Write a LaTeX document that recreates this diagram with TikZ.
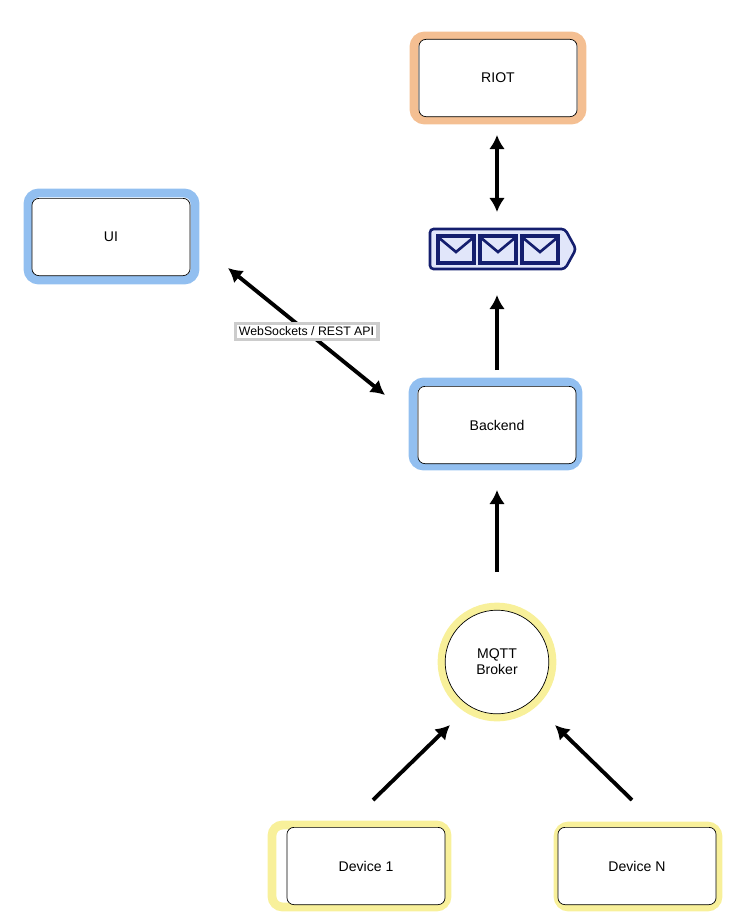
\documentclass[tikz,border=0pt]{standalone}
\usepackage{fontspec}
\setmainfont{Liberation Sans}
\usetikzlibrary{arrows.meta}
\definecolor{hlblue}{RGB}{110,170,235}
\definecolor{hlorange}{RGB}{240,170,110}
\definecolor{hlyellow}{RGB}{245,235,120}
\definecolor{navy}{RGB}{20,30,110}
\definecolor{paleblue}{RGB}{225,230,250}
\tikzset{
    box/.style={draw=black,rounded corners=4pt,fill=white,minimum width=90pt,minimum height=44pt,font=\fontsize{8}{9}\selectfont},
    mark/.style={draw=#1,opacity=0.75,line width=5pt,rounded corners=6pt},
    link/.style={line width=2.2pt,-{Latex[length=8pt,width=9pt]}},
    dlink/.style={line width=2.2pt,{Latex[length=8pt,width=9pt]}-{Latex[length=8pt,width=9pt]}},
}
\begin{document}
\begin{tikzpicture}[x=0.02cm,y=-0.02cm]
    \useasboundingbox (0,0) rectangle (754,920);
    % highlights
    \draw [mark=hlorange] (414,36) rectangle (582,120);
    \draw [mark=hlblue] (28,193) rectangle (195,280);
    \draw [mark=hlblue] (413,382) rectangle (578,466);
    \draw [mark=hlyellow] (272,825) rectangle (447,907);
    \draw [mark=hlyellow] (558,826) rectangle (718,907);
    \draw [draw=hlyellow,opacity=0.75,line width=5pt] (497,662) circle (55);
    % nodes
    \node [box] (riot) at (498,78) {RIOT};
    \node [box] (ui) at (111,237) {UI};
    \node [box] (backend) at (497,425) {Backend};
    \node [circle,draw=black,fill=white,minimum size=59pt,inner sep=0pt,font=\fontsize{8}{9}\selectfont,align=center] (broker) at (497,662) {MQTT\\Broker};
    \node [box] (dev1) at (366,866) {Device 1};
    \node [box] (devn) at (637,866) {Device N};
    % queue
    \draw [navy,line width=1.5pt,fill=paleblue,rounded corners=2pt]
        (430,229) -- (565,229) -- (576,249) -- (565,269) -- (430,269) -- cycle;
    \foreach \x in {438,480,522} {
        \draw [navy,line width=2pt,fill=paleblue] (\x,236) rectangle (\x+36,263);
        \draw [navy,line width=1.5pt] (\x,237) -- (\x+18,252) -- (\x+36,237);
    }
    \coordinate (qtop) at (497,212);
    \coordinate (qbot) at (497,295);
    \coordinate (rbot) at (497,135);
    \coordinate (btop) at (497,370);
    \coordinate (uiend) at (228,268);
    \coordinate (bend) at (385,395);
    \coordinate (mtop) at (497,572);
    \coordinate (bbot) at (497,490);
    \coordinate (d1end) at (373,800);
    \coordinate (dnend) at (632,800);
    \coordinate (mleft) at (450,725);
    \coordinate (mright) at (555,725);
    % connectors
    \draw [dlink] (rbot) -- (qtop);
    \draw [link] (btop) -- (qbot);
    \draw [dlink] (uiend) -- node [fill=white,draw=black!20,font=\fontsize{7}{8}\selectfont,inner sep=2pt] {WebSockets / REST API} (bend);
    \draw [link] (mtop) -- (bbot);
    \draw [link] (d1end) -- (mleft);
    \draw [link] (dnend) -- (mright);
\end{tikzpicture}
\end{document}
